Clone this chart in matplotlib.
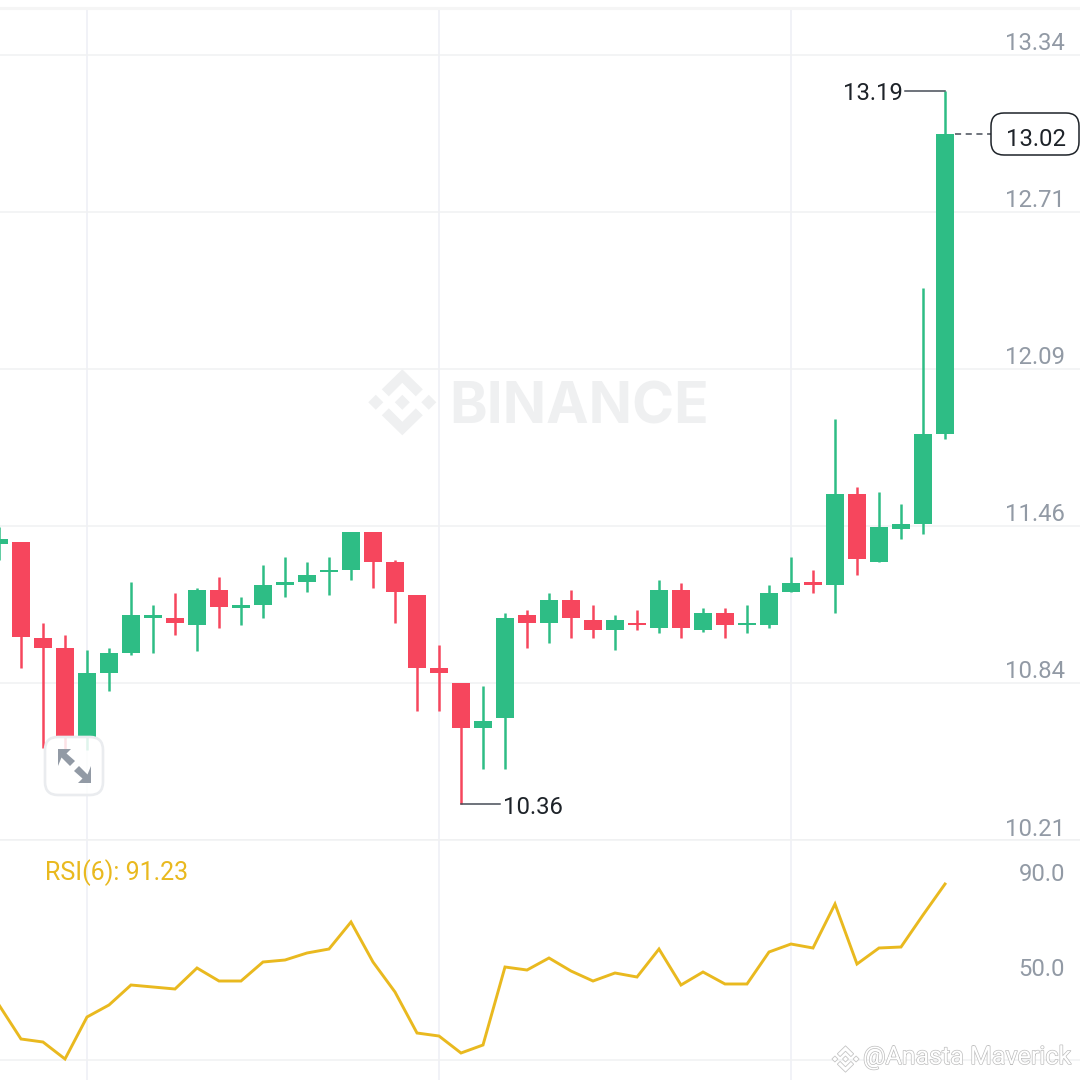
import matplotlib
matplotlib.use("Agg")
import matplotlib.pyplot as plt
from matplotlib.patches import FancyBboxPatch, Polygon
import matplotlib.patheffects as pe

# Candles. One entry per candle, index 0 sits on the first vertical grid line
candle_index = list(range(-4, 40))
opens = [11.391, 11.399, 11.016, 10.976, 10.621, 10.876, 10.956, 11.096, 11.096, 11.068, 11.207,
         11.135, 11.147, 11.227, 11.239, 11.279, 11.287, 11.438, 11.319, 11.187, 10.896, 10.836,
         10.657, 10.697, 11.107, 11.076, 11.167, 11.088, 11.048, 11.076, 11.056, 11.207, 11.048,
         11.115, 11.068, 11.068, 11.199, 11.239, 11.227, 11.590, 11.319, 11.450, 11.470, 11.829]
highs = [11.458, 11.399, 11.076, 11.028, 10.968, 10.976, 11.239, 11.147, 11.195, 11.215, 11.259,
         11.179, 11.307, 11.339, 11.319, 11.339, 11.438, 11.438, 11.327, 11.187, 10.988, 10.836,
         10.824, 11.115, 11.127, 11.195, 11.207, 11.147, 11.107, 11.127, 11.247, 11.235, 11.135,
         11.135, 11.147, 11.227, 11.339, 11.287, 11.889, 11.618, 11.598, 11.550, 12.411, 13.195]
lows = [11.327, 10.896, 10.577, 10.569, 10.569, 10.804, 10.948, 10.956, 11.028, 10.964, 11.056,
        11.068, 11.096, 11.179, 11.199, 11.187, 11.247, 11.215, 11.076, 10.725, 10.725, 10.355,
        10.494, 10.494, 10.976, 10.996, 11.016, 11.016, 10.968, 11.048, 11.036, 11.016, 11.040,
        11.016, 11.036, 11.056, 11.199, 11.195, 11.115, 11.267, 11.319, 11.411, 11.430, 11.809]
closes = [11.411, 11.020, 10.976, 10.621, 10.876, 10.956, 11.107, 11.107, 11.076, 11.207, 11.139,
          11.147, 11.227, 11.239, 11.267, 11.287, 11.438, 11.319, 11.199, 10.896, 10.876, 10.657,
          10.685, 11.096, 11.076, 11.167, 11.096, 11.048, 11.088, 11.068, 11.207, 11.056, 11.115,
          11.068, 11.076, 11.195, 11.235, 11.227, 11.590, 11.331, 11.458, 11.470, 11.829, 13.025]

rsi_values = [40.18, 25.83, 24.56, 17.39, 35.11, 40.18, 48.61, 47.77, 46.93, 55.79, 50.30,
              50.30, 58.32, 59.16, 62.12, 63.80, 75.20, 58.32, 45.66, 28.36, 27.09, 19.92,
              23.30, 56.21, 54.94, 60.01, 54.52, 50.30, 53.68, 51.99, 63.80, 48.61, 54.10,
              49.04, 49.04, 62.54, 65.91, 64.23, 82.79, 57.47, 64.23, 64.65, 78.15, 91.23]

price_ticks = [13.34, 12.714, 12.088, 11.462, 10.836, 10.21]
price_tick_labels = ["13.34", "12.71", "12.09", "11.46", "10.84", "10.21"]
rsi_ticks = [90.0, 50.0]
rsi_tick_labels = ["90.0", "50.0"]
rsi_grid = [17.0]
time_grid = [0, 16, 32]

high_mark = (39, 13.195, "13.19")
low_mark = (17, 10.355, "10.36")
last_price = 13.025
last_label = "13.02"
rsi_label = "RSI(6): 91.23"

GREEN = "#2EBD85"
RED = "#F6465D"
YELLOW = "#E9B91F"
GREY = "#929AA5"
DARK = "#1E2329"
HGRID = "#F0F1F2"
VGRID = "#EDEFF5"
FONT = "Roboto"

plt.rcParams["font.family"] = [FONT, "DejaVu Sans"]

fig = plt.figure(figsize=(10.8, 10.8), dpi=100, facecolor="white")
ax = fig.add_axes([0, 240 / 1080, 1, 832 / 1080])
ax_rsi = fig.add_axes([0, 0, 1, 240 / 1080])

x_range = (-87 / 22, 993 / 22)
ax.set_xlim(*x_range)
ax.set_ylim(10.21, 13.527)
ax_rsi.set_xlim(*x_range)
ax_rsi.set_ylim(8.53, 109.8)

for a in (ax, ax_rsi):
    for s in a.spines.values():
        s.set_visible(False)
    a.set_axisbelow(True)
    a.set_xticks(time_grid)
    a.set_xticklabels([])
    a.tick_params(length=0, labelleft=False, labelbottom=False)
    a.xaxis.grid(True, color=VGRID, lw=1.1)
    a.yaxis.grid(True, color=HGRID, lw=1.1)
ax.set_yticks(price_ticks)
ax_rsi.set_yticks(rsi_grid)

# candles
colors = [GREEN if c >= o else RED for o, c in zip(opens, closes)]
ax.vlines(candle_index, lows, highs, colors=colors, lw=1.8, zorder=3)
ax.bar(candle_index, [abs(c - o) for o, c in zip(opens, closes)],
       bottom=[min(o, c) for o, c in zip(opens, closes)],
       width=0.86, color=colors, linewidth=0, zorder=4)

# right hand labels, they sit a bit above their level
for v, lab in zip(price_ticks, price_tick_labels):
    ax.annotate(lab, xy=(1, v), xycoords=("axes fraction", "data"), xytext=(-15, 11),
                textcoords="offset pixels", ha="right", va="center", fontsize=17.2, color=GREY)
for v, lab in zip(rsi_ticks, rsi_tick_labels):
    ax_rsi.annotate(lab, xy=(1, v), xycoords=("axes fraction", "data"), xytext=(-15, 12),
                    textcoords="offset pixels", ha="right", va="center", fontsize=17.2, color=GREY)

# high and low markers
ax.plot([high_mark[0] - 40 / 22, high_mark[0]], [high_mark[1]] * 2, color="#474D57", lw=1.1, zorder=5)
ax.annotate(high_mark[2], xy=(high_mark[0], high_mark[1]), xytext=(-42, -2),
            textcoords="offset pixels", ha="right", va="center", fontsize=17.2, color=DARK)
ax.plot([low_mark[0], low_mark[0] + 39 / 22], [low_mark[1]] * 2, color="#474D57", lw=1.1, zorder=5)
ax.annotate(low_mark[2], xy=(low_mark[0], low_mark[1]), xytext=(42, -4),
            textcoords="offset pixels", ha="left", va="center", fontsize=17.2, color=DARK)

# last price line and its tag
ax.plot([39 + 10 / 22, 39 + 46 / 22], [last_price] * 2, color="#474D57", lw=1.1,
        dashes=(4, 3), zorder=5)

# rsi pane
ax_rsi.plot(candle_index, rsi_values, color=YELLOW, lw=2.1, solid_joinstyle="miter", zorder=3)

# overlay in pixels for the app furniture
ui = fig.add_axes([0, 0, 1, 1], zorder=10)
ui.set_xlim(0, 1080)
ui.set_ylim(1080, 0)
ui.axis("off")
ui.patch.set_alpha(0)

ui.plot([0, 1080], [8, 8], color="#F5F5F5", lw=2.2)
ui.plot([0, 1080], [840, 840], color=HGRID, lw=1.1)

ui.add_patch(FancyBboxPatch((991, 113), 88, 42, boxstyle="round,pad=0,rounding_size=13",
                            fc="white", ec=DARK, lw=1.1))
ui.text(1035.5, 139, last_label, ha="center", va="center", fontsize=17.2, color=DARK)

ui.text(45, 873, rsi_label, ha="left", va="center", fontsize=18, color=YELLOW)

# expand button
ui.add_patch(FancyBboxPatch((45, 737), 58, 58, boxstyle="round,pad=0,rounding_size=13",
                            fc=(1, 1, 1, 0.85), ec="#EAECEF", lw=1.9))
arrow = [(58, 749), (71, 749), (66.5, 753.5), (75, 761), (70, 766), (61.5, 757.5), (58, 766)]
ui.add_patch(Polygon(arrow, fc=GREY, ec="none"))
ui.add_patch(Polygon([(149 - x, 1532 - y) for x, y in arrow], fc=GREY, ec="none"))

# binance watermark
WM = "#EFF0F1"
def logo(cx, cy, s, **kw):
    d = [(0, -7.5), (7.5, 0), (0, 7.5), (-7.5, 0)]
    chevron = [(0, -33), (20.5, -13), (13.5, -6), (0, -19.5), (-13.5, -6), (-20.5, -13)]
    shapes = [d, [(x - 26.5, y) for x, y in d], [(x + 26.5, y) for x, y in d],
              chevron, [(x, -y) for x, y in chevron]]
    for shape in shapes:
        ui.add_patch(Polygon([(cx + x * s, cy + y * s) for x, y in shape], **kw))

logo(402.3, 402.3, 1, fc=WM, ec="none")
ui.text(449, 408, "BINANCE", ha="left", va="center", fontsize=41, color=WM,
        family="Inter", weight="bold")

# author stamp, embossed look
logo(845.5, 1059, 0.4, fc="white", ec="#C4C4C4", lw=0.6)
ui.text(863, 1057, "@Anasta Maverick", ha="left", va="center", fontsize=18, color="white",
        path_effects=[pe.withStroke(linewidth=1.0, foreground="#BDBDBD")])

fig.savefig("out.png", dpi=100, facecolor="white")
